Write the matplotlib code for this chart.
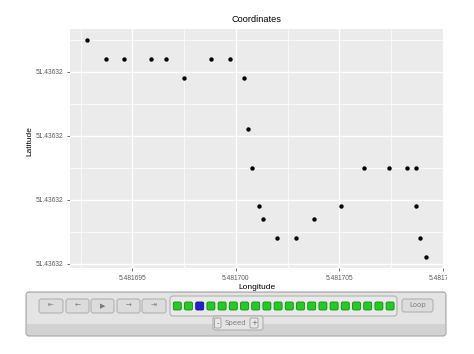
import matplotlib
matplotlib.use("Agg")
import matplotlib.pyplot as plt
from matplotlib.patches import FancyBboxPatch, Rectangle
from matplotlib.transforms import Bbox

# GPS track
longitude = [5.4816928, 5.4816937, 5.4816946, 5.4816959, 5.4816966, 5.4816975,
             5.4816988, 5.4816997, 5.4817004, 5.4817006, 5.4817008, 5.4817011,
             5.4817013, 5.4817020, 5.4817029, 5.4817038, 5.4817051, 5.4817062,
             5.4817074, 5.4817083, 5.4817087, 5.4817087, 5.4817089, 5.4817092]
latitude = [51.4363250, 51.4363244, 51.4363244, 51.4363244, 51.4363244, 51.4363238,
            51.4363244, 51.4363244, 51.4363238, 51.4363222, 51.4363210, 51.4363198,
            51.4363194, 51.4363188, 51.4363188, 51.4363194, 51.4363198, 51.4363210,
            51.4363210, 51.4363210, 51.4363210, 51.4363198, 51.4363188, 51.4363182]

x_ticks = [5.481695, 5.481700, 5.481705, 5.481710]
x_tick_labels = ["5.481695", "5.481700", "5.481705", "5.481710"]
x_minor = [5.4816925, 5.4816975, 5.4817025, 5.4817075]
y_ticks = [51.436318, 51.436320, 51.436322, 51.436324]
y_tick_labels = ["51.43632", "51.43632", "51.43632", "51.43632"]
y_minor = [51.436319, 51.436321, 51.436323, 51.436325]

n_frames = 20
current_frame = 3
nav_buttons = ["\u21e4", "\u2190", "\u25b6", "\u2192", "\u21e5"]

W, H = 474, 354
fig = plt.figure(figsize=(W / 100, H / 100), dpi=100)
fig.patch.set_facecolor("white")

# ---- ggplot-like scatter ----
ax = fig.add_axes([70 / W, 1 - 268 / H, 373 / W, 239 / H])
ax.set_facecolor("#EBEBEB")
ax.scatter(longitude, latitude, s=10, color="black", zorder=3, linewidths=0)
lon_pad = (max(longitude) - min(longitude)) * 0.05
lat_pad = (max(latitude) - min(latitude)) * 0.05
ax.set_xlim(min(longitude) - lon_pad, max(longitude) + lon_pad)
ax.set_ylim(min(latitude) - lat_pad, max(latitude) + lat_pad)

ax.set_xticks(x_ticks)
ax.set_xticklabels(x_tick_labels)
ax.set_yticks(y_ticks)
ax.set_yticklabels(y_tick_labels)
for v in x_minor:
    ax.axvline(v, color="white", lw=0.5, zorder=1)
for v in y_minor:
    ax.axhline(v, color="white", lw=0.5, zorder=1)
for v in x_ticks:
    ax.axvline(v, color="white", lw=1.0, zorder=2)
for v in y_ticks:
    ax.axhline(v, color="white", lw=1.0, zorder=2)

for s in ax.spines.values():
    s.set_visible(False)
ax.tick_params(length=2.2, width=0.6, color="#555555", labelcolor="#5a5a5a",
               labelsize=4.8, pad=2.5)
ax.set_title("Coordinates", fontsize=6.6, family="Liberation Sans", pad=5)
ax.set_xlabel("Longitude", fontsize=6, family="Liberation Sans", labelpad=1.5)
ax.set_ylabel("Latitude", fontsize=6, family="Liberation Sans")
ax.yaxis.set_label_coords(-0.097, 0.53)
for lab in ax.get_xticklabels() + ax.get_yticklabels():
    lab.set_family("Liberation Sans")

# the original image is cut at the right edge
clip = Bbox.from_extents(0, 0, 447, H)
for lab in ax.get_xticklabels():
    lab.set_clip_box(clip)
    lab.set_clip_on(True)

# ---- animation control bar (pixel coords, y downwards) ----
ui = fig.add_axes([0, 0, 1, 1])
ui.set_xlim(0, W)
ui.set_ylim(H, 0)
ui.axis("off")


def box(x0, y0, x1, y1, fc, ec, r=2.5, lw=0.8, z=1):
    p = FancyBboxPatch((x0, y0), x1 - x0, y1 - y0,
                       boxstyle=f"round,pad=0,rounding_size={r}",
                       fc=fc, ec=ec, lw=lw, zorder=z)
    ui.add_patch(p)


box(26, 292, 446, 336, "#d2d2d2", "#a8a8a8", r=3, z=1)
ui.add_patch(Rectangle((27, 293), 418, 31, fc="#e4e4e4", ec="none", zorder=1.5))

# navigation buttons
btn_x = [(39, 63), (66, 89), (91, 114), (117, 140), (142, 166)]
for (x0, x1), glyph in zip(btn_x, nav_buttons):
    box(x0, 299, x1, 313, "#dcdcdc", "#b2b2b2", r=2.5, z=2)
    ui.text((x0 + x1) / 2, 306, glyph, fontsize=5, color="#7a7a7a",
            ha="center", va="center", zorder=3)

# frame progress
box(170, 296, 397, 316, "#e9e9e9", "#b0b0b0", r=3, z=2)
for i in range(n_frames):
    cx = 177.3 + i * 11.2
    fc, ec = ("#2020d0", "#101080") if i + 1 == current_frame else ("#22cc22", "#138a13")
    box(cx - 4, 302, cx + 4, 310, fc, ec, r=1.5, lw=0.6, z=3)

# loop button
box(402, 299, 433, 312, "#dcdcdc", "#b2b2b2", r=2.5, z=2)
ui.text(417.5, 305.5, "Loop", fontsize=5, color="#808080",
        ha="center", va="center", zorder=3)

# speed control
box(213, 316, 263, 330, "#e4e4e4", "#b0b0b0", r=2.5, z=2)
box(214.5, 318, 221, 328, "#e8e8e8", "#9a9a9a", r=1.5, lw=0.6, z=3)
box(250, 318, 258, 328, "#e8e8e8", "#9a9a9a", r=1.5, lw=0.6, z=3)
ui.text(217.8, 323, "-", fontsize=5, color="#666666", ha="center", va="center", zorder=4)
ui.text(254, 323, "+", fontsize=5, color="#666666", ha="center", va="center", zorder=4)
ui.text(235.5, 323, "Speed", fontsize=5, color="#808080", ha="center", va="center", zorder=4)

fig.savefig("out.png", dpi=100)
